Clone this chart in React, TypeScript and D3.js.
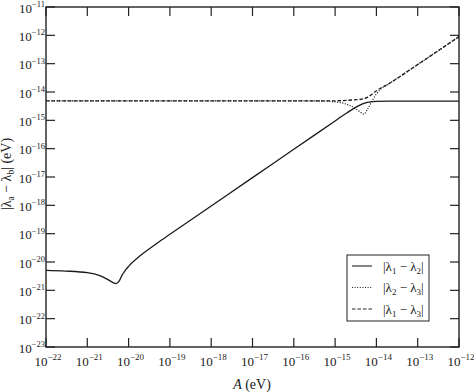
import React from "react";
import * as d3 from "d3";

// ---- data ----
const solidA = [1e-22, 3e-22, 1e-21, 2e-21, 3e-21, 4e-21, 5e-21, 6e-21, 7e-21, 8e-21, 1e-20, 2e-20, 5e-20, 1e-19, 1e-18, 1e-17, 1e-16, 1e-15, 2e-15, 3e-15, 4e-15, 5e-15, 6e-15, 8e-15, 1e-14, 2e-14, 1e-13, 1e-12];
const solidV = [5.05e-21, 4.8e-21, 4.2e-21, 3.3e-21, 2.5e-21, 1.95e-21, 1.72e-21, 2.2e-21, 3.5e-21, 4.7e-21, 7e-21, 1.75e-20, 4.7e-20, 9.5e-20, 0.95e-18, 0.95e-17, 0.95e-16, 0.95e-15, 1.9e-15, 2.75e-15, 3.45e-15, 3.95e-15, 4.3e-15, 4.6e-15, 4.7e-15, 4.75e-15, 4.75e-15, 4.75e-15];

const dottedA = [1e-22, 1e-20, 1e-18, 1e-16, 5e-16, 1e-15, 2e-15, 3e-15, 4e-15, 5e-15, 6e-15, 8e-15, 1e-14, 1.3e-14, 2e-14, 5e-14, 1e-13, 1e-12];
const dottedV = [4.85e-15, 4.85e-15, 4.85e-15, 4.85e-15, 4.8e-15, 4.5e-15, 3.6e-15, 2.7e-15, 2.0e-15, 1.65e-15, 2.4e-15, 5e-15, 8.5e-15, 1.3e-14, 1.95e-14, 4.7e-14, 9.3e-14, 9e-13];

const dashedA = [1e-22, 1e-20, 1e-18, 1e-16, 1e-15, 2e-15, 3e-15, 4e-15, 5e-15, 6e-15, 8e-15, 1e-14, 2e-14, 5e-14, 1e-13, 1e-12];
const dashedV = [4.85e-15, 4.85e-15, 4.85e-15, 4.85e-15, 4.9e-15, 5.1e-15, 5.3e-15, 5.5e-15, 5.8e-15, 6.5e-15, 8.5e-15, 1.1e-14, 1.95e-14, 4.7e-14, 9.3e-14, 9e-13];

const xExps = [-22, -21, -20, -19, -18, -17, -16, -15, -14, -13, -12];
const yExps = [-23, -22, -21, -20, -19, -18, -17, -16, -15, -14, -13, -12, -11];

const legendSubs = [["1", "2"], ["2", "3"], ["1", "3"]];
const legendDash = ["none", "1,1.6", "3.5,2"];

const W = 474, H = 392;
const L = 46, R = 459, T = 7, B = 347;
const FONT = "Liberation Serif, Times New Roman, serif";

export default function App() {
  const x = d3.scaleLog().domain([1e-22, 1e-12]).range([L, R]);
  const y = d3.scaleLog().domain([1e-23, 1e-11]).range([B, T]);
  const line = d3
    .line<[number, number]>()
    .x((d) => x(d[0]))
    .y((d) => y(d[1]))
    .curve(d3.curveMonotoneX);
  const zip = (a: number[], v: number[]) => a.map((ai, i) => [ai, v[i]] as [number, number]);
  const series = [
    { d: line(zip(solidA, solidV)), dash: legendDash[0] },
    { d: line(zip(dottedA, dottedV)), dash: legendDash[1] },
    { d: line(zip(dashedA, dashedV)), dash: legendDash[2] },
  ];
  const tl = 9;
  const lgX = 347, lgY = 255, lgW = 82, lgH = 66;
  const rows = [266, 287.5, 309];

  return (
    <svg width={W} height={H} style={{ position: "absolute", left: 0, top: 0, background: "#fff", fontFamily: FONT }}>
      <defs>
        <clipPath id="plot">
          <rect x={L} y={T} width={R - L} height={B - T} />
        </clipPath>
      </defs>
      <rect x={0} y={0} width={W} height={H} fill="#fff" />
      {/* series */}
      <g clipPath="url(#plot)">
        {series.map((s, i) => (
          <path key={i} d={s.d || ""} fill="none" stroke="#1a1a1a" strokeWidth={1.3} strokeDasharray={s.dash} />
        ))}
      </g>
      {/* ticks */}
      {xExps.map((e) => {
        const px = x(Math.pow(10, e));
        return (
          <g key={"x" + e}>
            <line x1={px} x2={px} y1={B} y2={B - tl} stroke="#222" strokeWidth={1.2} />
            <line x1={px} x2={px} y1={T} y2={T + tl} stroke="#222" strokeWidth={1.2} />
            <text x={px + 2} y={366} textAnchor="middle" fontSize={13} fill="#222" style={{ fontFamily: FONT }}>
              10<tspan fontSize={9} dy={-6}>{"\u2212" + Math.abs(e)}</tspan>
            </text>
          </g>
        );
      })}
      {yExps.map((e) => {
        const py = y(Math.pow(10, e));
        return (
          <g key={"y" + e}>
            <line x1={L} x2={L + tl} y1={py} y2={py} stroke="#222" strokeWidth={1.2} />
            <line x1={R} x2={R - tl} y1={py} y2={py} stroke="#222" strokeWidth={1.2} />
            <text x={45} y={py + 5.5} textAnchor="end" fontSize={13} fill="#222" style={{ fontFamily: FONT }}>
              10<tspan fontSize={8.5} dy={-5.5}>{"\u2212" + Math.abs(e)}</tspan>
            </text>
          </g>
        );
      })}
      {/* frame */}
      <rect x={L} y={T} width={R - L} height={B - T} fill="none" stroke="#222" strokeWidth={1.4} />
      {/* axis labels */}
      <text x={252} y={389} textAnchor="middle" fontSize={14} fill="#222" style={{ fontFamily: FONT }}>
        <tspan fontStyle="italic">A</tspan> (eV)
      </text>
      <text transform={`translate(11,174) rotate(-90)`} textAnchor="middle" fontSize={14} fill="#222" style={{ fontFamily: FONT }}>
        |λ<tspan fontSize={9.5} dy={3}>a</tspan>
        <tspan dy={-3}> − λ</tspan>
        <tspan fontSize={9.5} dy={3}>b</tspan>
        <tspan dy={-3}>| (eV)</tspan>
      </text>
      {/* legend */}
      <rect x={lgX} y={lgY} width={lgW} height={lgH} fill="#fff" stroke="#222" strokeWidth={1} />
      {legendSubs.map((s, i) => (
        <g key={"lg" + i}>
          <line x1={352} x2={372} y1={rows[i]} y2={rows[i]} stroke="#222" strokeWidth={1.1} strokeDasharray={legendDash[i]} />
          <text x={383} y={rows[i] + 4.5} fontSize={13} fill="#222" style={{ fontFamily: FONT }}>
            |λ<tspan fontSize={9} dy={3}>{s[0]}</tspan>
            <tspan dy={-3}> − λ</tspan>
            <tspan fontSize={9} dy={3}>{s[1]}</tspan>
            <tspan dy={-3}>|</tspan>
          </text>
        </g>
      ))}
    </svg>
  );
}
